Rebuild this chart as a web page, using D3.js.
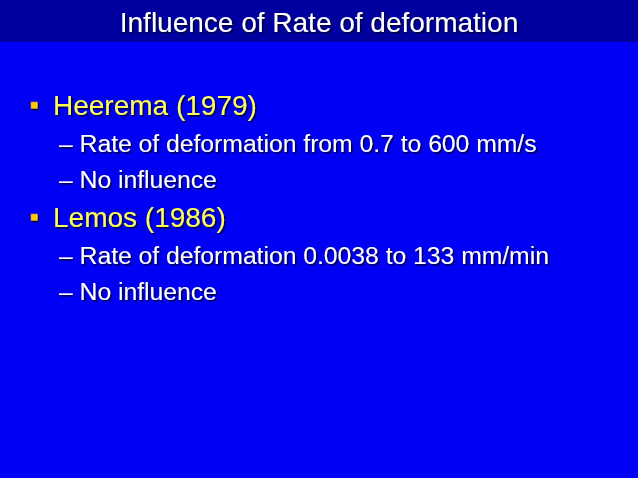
<!DOCTYPE html>
<html>
<head>
<meta charset="utf-8">
<script src="https://cdn.jsdelivr.net/npm/d3@7"></script>
<style>
html,body{margin:0;padding:0;background:#0000f5;overflow:hidden;}
svg{display:block;}
text{font-family:"Liberation Sans",Arial,sans-serif;}
</style>
</head>
<body>
<svg id="slide" width="638" height="478"></svg>
<script>
const title = "Influence of Rate of deformation";
const lines = [
  "Heerema (1979)",
  "– Rate of deformation from 0.7 to 600 mm/s",
  "– No influence",
  "Lemos (1986)",
  "– Rate of deformation 0.0038 to 133 mm/min",
  "– No influence"
];
const levels = [1, 2, 2, 1, 2, 2];

const W = 638, H = 478;
const svg = d3.select("#slide");

const defs = svg.append("defs");
const f = defs.append("filter").attr("id","sh").attr("x","-10%").attr("y","-30%").attr("width","120%").attr("height","160%");
f.append("feDropShadow").attr("dx",1.6).attr("dy",1.6).attr("stdDeviation",0.6)
  .attr("flood-color","#000030").attr("flood-opacity",0.85);

svg.append("rect").attr("x",0).attr("y",0).attr("width",W).attr("height",H).attr("fill","#0000f5");
svg.append("rect").attr("x",0).attr("y",0).attr("width",W).attr("height",42).attr("fill","#00009f");

svg.append("text")
  .attr("x", W/2).attr("y", 32)
  .attr("text-anchor","middle")
  .attr("font-size", 28)
  .attr("fill","#ffffff")
  .attr("filter","url(#sh)")
  .text(title);

// vertical layout: cumulative spacing by level
const gaps = levels.map((l,i)=> i===0 ? 0 : (l===1 ? 40 : 36));
const idx = d3.range(lines.length);
const cum = d3.cumsum(gaps);
const y = d3.scaleLinear().domain([0, d3.max(cum)]).range([115, 115 + d3.max(cum)]);

const g = svg.append("g");
const items = g.selectAll("g.item").data(idx).join("g").attr("class","item")
  .attr("transform", i => `translate(0,${y(cum[i])})`);

items.filter(i => levels[i]===1).append("rect")
  .attr("x",31).attr("y",-13).attr("width",6.5).attr("height",6.5)
  .attr("fill","#ffcc00").attr("stroke","#c89600").attr("stroke-width",0.6)
  .attr("filter","url(#sh)");

items.append("text")
  .attr("x", i => levels[i]===1 ? 53 : 59)
  .attr("y", i => levels[i]===1 ? 0 : 1)
  .attr("font-size", i => levels[i]===1 ? 28 : 24.7)
  .attr("fill", i => levels[i]===1 ? "#ffff55" : "#ffffff")
  .attr("filter","url(#sh)")
  .text(i => lines[i]);
</script>
</body>
</html>
